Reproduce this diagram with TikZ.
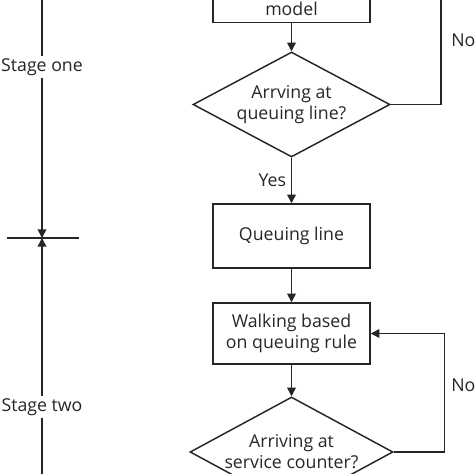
\documentclass[tikz,border=0pt]{standalone}
\usepackage{fontspec}
\setmainfont{Open Sans}
\usetikzlibrary{shapes.geometric,arrows.meta}

\definecolor{ink}{RGB}{38,38,38}
\newcommand{\flowfont}{\fontsize{13.3}{15.8}\selectfont}

\tikzset{
  flowline/.style={draw=ink, line width=1.1pt},
  arr/.style={flowline, -{Triangle[length=6.5pt,width=6.5pt]}},
  procbox/.style={draw=ink, line width=1.1pt, rectangle, minimum width=117.75pt, align=center, text=ink, font=\flowfont, inner sep=0pt},
  decide/.style={draw=ink, line width=1.1pt, diamond, aspect=1.9, inner sep=0pt, align=center, text=ink, font=\flowfont},
  lbl/.style={text=ink, font=\flowfont, inner sep=1.5pt}
}

\begin{document}
\begin{tikzpicture}[x=0.75pt,y=0.75pt,yscale=-1,xscale=1]
    \useasboundingbox (0,0) rectangle (474,474);
    \clip (0,0) rectangle (474,474);

    % Boxes and decisions
    \node [procbox, anchor=south, text height=40pt, inner ysep=5pt] (model) at (291.5,23) {model};
    \node [decide, minimum width=147.75pt, minimum height=78.75pt] (arrq) at (291.5,104.5) {Arrving at\\queuing line?};
    \node [procbox, minimum height=48pt] (queue) at (291.5,236) {Queuing line};
    \node [procbox, minimum height=45.75pt] (walk) at (291.5,333.5) {Walking based\\on queuing rule};
    \node [decide, minimum width=152.25pt, minimum height=82.5pt] (arrs) at (291.5,452) {Arriving at\\service counter?};

    % Loop labels
    \node [lbl, anchor=west] (no1) at (449,40) {No};
    \node [lbl, anchor=west] (no2) at (449,385) {No};

    % Flow
    \coordinate (loopup) at (441,-10);
    \draw [arr] (model) -- (arrq);
    \draw [flowline] (arrq.east) -| (loopup);
    \draw [arr] (arrq) -- node [lbl, left=2pt] (yes) {Yes} (queue);
    \draw [arr] (queue) -- (walk);
    \draw [arr] (walk) -- (arrs);
    \draw [arr] (arrs.east) -- ++(51,0) |- (walk.east);

    % Stage axis
    \coordinate (axtop) at (42,-5);
    \node [lbl] (st1) at (42,67) {Stage one};
    \coordinate (split) at (42,238);
    \coordinate (splitL) at (7,238);
    \coordinate (splitR) at (79,238);
    \node [lbl] (st2) at (42,407) {Stage two};
    \coordinate (axbot) at (42,480);
    \draw [flowline] (axtop) -- (st1);
    \draw [arr] (st1) -- (split);
    \draw [arr] (st2) -- (split);
    \draw [flowline] (st2) -- (axbot);
    \draw [flowline] (splitL) -- (splitR);
\end{tikzpicture}
\end{document}
